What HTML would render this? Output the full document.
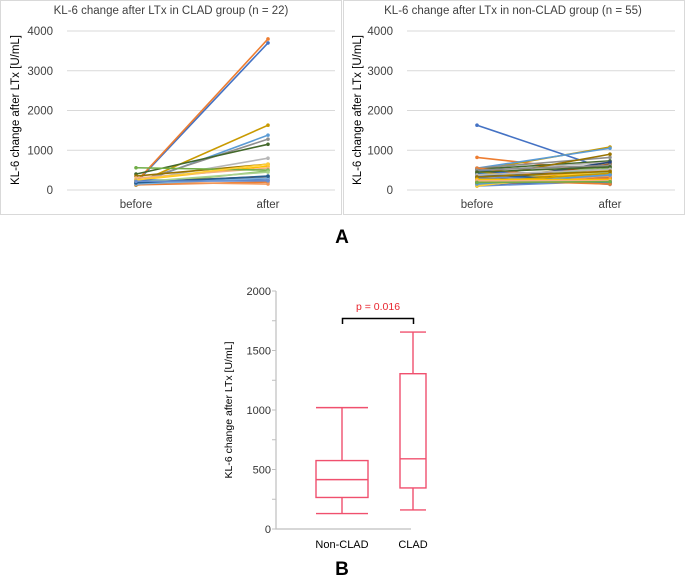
<!DOCTYPE html>
<html><head><meta charset="utf-8"><style>
body{margin:0;background:#fff;font-family:"Liberation Sans",Arial,sans-serif}
svg{display:block}
</style></head><body>
<svg id="c" width="685" height="576" xmlns="http://www.w3.org/2000/svg">
<rect x="0.5" y="0.5" width="341" height="214" fill="#fff" stroke="#d9d9d9"/>
<rect x="343.5" y="0.5" width="341" height="214" fill="#fff" stroke="#d9d9d9"/>
<text x="171" y="14" font-size="11.5" text-anchor="middle" fill="#404040">KL-6 change after LTx in CLAD group (n = 22)</text>
<text x="513" y="14" font-size="11.5" text-anchor="middle" fill="#404040">KL-6 change after LTx in non-CLAD group (n = 55)</text>
<text transform="translate(19,110) rotate(-90)" font-size="11.5" text-anchor="middle" fill="#000">KL-6 change after LTx [U/mL]</text>
<text transform="translate(361,110) rotate(-90)" font-size="11.5" text-anchor="middle" fill="#000">KL-6 change after LTx [U/mL]</text>
<g id="gL"></g><g id="gR"></g><g id="gB"></g>
<text x="342" y="243" font-size="19" font-weight="bold" text-anchor="middle">A</text>
<text x="342" y="575" font-size="19" font-weight="bold" text-anchor="middle">B</text>
<text transform="translate(232,410) rotate(-90)" font-size="10.5" text-anchor="middle" fill="#000">KL-6 change after LTx [U/mL]</text>
<path d="M342.5,324 V318.5 H413.5 V324" fill="none" stroke="#000" stroke-width="1.5"/>
<text x="378" y="310" font-size="10.5" text-anchor="middle" fill="#e8262f">p = 0.016</text>
</svg>
<script>
const lineTicks=[0,1000,2000,3000,4000];
const xCats=["before","after"];
const cladBefore=[180,200,160,150,200,400,230,350,250,300,560,120,200,180,250,130,200,150,200,250,180,220];
const cladAfter=[3700,3800,1630,1380,1280,1150,800,650,600,550,500,480,340,300,250,200,150,300,450,650,350,230];
const nonBefore=[1630,820,500,550,550,520,480,300,250,200,150,100,400,450,350,300,250,200,180,150,120,100,500,550,450,420,380,350,320,300,280,260,240,220,200,180,160,140,130,120,110,100,400,350,300,250,200,150,500,450,380,330,270,230,190];
const nonAfter=[500,450,1080,1050,820,730,700,900,650,600,550,480,450,400,380,350,330,300,280,260,240,220,200,180,160,150,140,300,350,400,450,500,550,600,650,700,250,300,350,400,450,500,200,180,160,150,420,380,620,580,520,470,260,230,210];
const boxTicks=[0,500,1000,1500,2000];
const boxCats=["Non-CLAD","CLAD"];
const boxMin=[130,160], boxQ1=[265,345], boxMed=[415,590], boxQ3=[575,1305], boxMax=[1020,1655];
const pal=["#4472C4","#ED7D31","#C99A00","#5B9BD5","#8E8E8E","#43682B","#B7B7B7","#997300","#FFC000","#F4B183","#70AD47","#8CC168","#9E480E","#264478","#4472C4","#ED7D31","#F1975A","#7CAFDD","#A9D18E","#FFCD33","#255E91","#698ED0"];
const NS="http://www.w3.org/2000/svg";
function mk(p,t,a){const e=document.createElementNS(NS,t);for(const k in a)e.setAttribute(k,a[k]);p.appendChild(e);return e;}
function panel(g,x0,x1,xb,xa,bef,aft,pre){
 const y=v=>190-v*0.03975;
 lineTicks.forEach(t=>{
  const l=mk(g,"line",{x1:x0,x2:x1,y1:y(t),y2:y(t),stroke:"#d9d9d9","stroke-width":1});
  
  
  const tx=mk(g,"text",{x:x0-14,y:y(t)+4,"font-size":11.5,"text-anchor":"end",fill:"#404040"});tx.textContent=t;
  
  
 });
 [xb,xa].forEach((x,i)=>{const tx=mk(g,"text",{x:x,y:208,"font-size":11.5,"text-anchor":"middle",fill:"#404040"});tx.textContent=xCats[i];
  
  });
 bef.forEach((b,i)=>{
  const c=pal[i%pal.length];
  const l=mk(g,"line",{x1:xb,x2:xa,y1:y(b),y2:y(aft[i]),stroke:c,"stroke-width":1.6});
  
  
  [[xb,b],[xa,aft[i]]].forEach(p=>{const d=mk(g,"circle",{cx:p[0],cy:y(p[1]),r:1.8,fill:c});
   
   });
 });
}
panel(document.getElementById("gL"),67,335,136,268,cladBefore,cladAfter,"clad");
panel(document.getElementById("gR"),407,675,477,610,nonBefore,nonAfter,"nonclad");
const gB=document.getElementById("gB");
const by=v=>529-v*0.119;
const ax=mk(gB,"path",{d:"M276,291 V529 H411",fill:"none",stroke:"#bfbfbf","stroke-width":1.2});


for(let t=0;t<=2000;t+=250){const l=mk(gB,"line",{x1:272,x2:276,y1:by(t),y2:by(t),stroke:"#bfbfbf"});
 
 }
boxTicks.forEach(t=>{const tx=mk(gB,"text",{x:271,y:by(t)+4,"font-size":11,"text-anchor":"end",fill:"#333"});tx.textContent=t;
 
 });
const cx=[342,413], hw=[26,13];
boxCats.forEach((c,i)=>{
 const tx=mk(gB,"text",{x:cx[i],y:548,"font-size":11,"text-anchor":"middle",fill:"#000"});tx.textContent=c;
 
 
 const s={stroke:"#f0506e","stroke-width":1.4,fill:"none"};
 const r=mk(gB,"rect",Object.assign({x:cx[i]-hw[i],y:by(boxQ3[i]),width:2*hw[i],height:by(boxQ1[i])-by(boxQ3[i])},s));
 
 
 const p=mk(gB,"path",Object.assign({d:`M${cx[i]-hw[i]},${by(boxMed[i])}H${cx[i]+hw[i]}M${cx[i]},${by(boxQ3[i])}V${by(boxMax[i])}M${cx[i]-hw[i]},${by(boxMax[i])}H${cx[i]+hw[i]}M${cx[i]},${by(boxQ1[i])}V${by(boxMin[i])}M${cx[i]-hw[i]},${by(boxMin[i])}H${cx[i]+hw[i]}`},s));
 
 
});
</script>
</body></html>
